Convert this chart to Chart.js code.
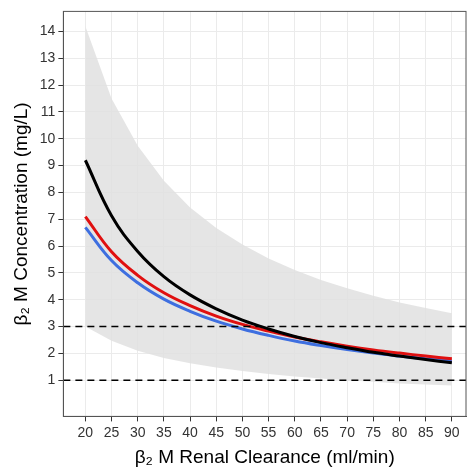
<!DOCTYPE html>
<html>
<head>
<meta charset="utf-8">
<script src="https://cdn.jsdelivr.net/npm/chart.js@4"></script>
<style>
  html, body { margin: 0; padding: 0; background: #fff; }
  #wrap { width: 474px; height: 475px; }
</style>
</head>
<body>
<div id="wrap"><canvas id="c"></canvas></div>
<script>
const clearance = [20, 25, 30, 35, 40, 45, 50, 55, 60, 65, 70, 75, 80, 85, 90];
const blackLine = [9.2, 7.13, 5.80, 4.86, 4.18, 3.66, 3.24, 2.91, 2.63, 2.40, 2.21, 2.04, 1.90, 1.77, 1.65];
const redLine   = [7.1, 5.79, 4.91, 4.26, 3.78, 3.39, 3.08, 2.83, 2.61, 2.43, 2.27, 2.13, 2.01, 1.90, 1.80];
const blueLine  = [6.7, 5.46, 4.63, 4.02, 3.57, 3.20, 2.91, 2.67, 2.46, 2.29, 2.14, 2.01, 1.90, 1.80, 1.72];
const bandUpper = [14.2, 11.5, 9.74, 8.44, 7.44, 6.67, 6.06, 5.54, 5.11, 4.74, 4.43, 4.15, 3.90, 3.69, 3.5];
const bandLower = [3.0, 2.47, 2.10, 1.83, 1.63, 1.47, 1.34, 1.23, 1.14, 1.06, 1.00, 0.94, 0.88, 0.84, 0.80];
const refLines = [1, 3];
const xTicks = [20, 25, 30, 35, 40, 45, 50, 55, 60, 65, 70, 75, 80, 85, 90];
const yTicks = [1, 2, 3, 4, 5, 6, 7, 8, 9, 10, 11, 12, 13, 14];

const pts = arr => arr.map((v, i) => ({ x: clearance[i], y: v }));

// dashed reference lines + panel border
const refLinePlugin = {
  id: 'refLines',
  afterDatasetsDraw(chart) {
    const { ctx, chartArea, scales } = chart;
    ctx.save();
    ctx.strokeStyle = '#000';
    ctx.lineWidth = 1.6;
    ctx.setLineDash([7, 5]);
    refLines.forEach(v => {
      const y = scales.y.getPixelForValue(v);
      ctx.beginPath();
      ctx.moveTo(chartArea.left, y);
      ctx.lineTo(chartArea.right, y);
      ctx.stroke();
    });
    ctx.setLineDash([]);
    ctx.strokeStyle = '#555';
    ctx.lineWidth = 1;
    ctx.strokeRect(chartArea.left, chartArea.top, chartArea.right - chartArea.left, chartArea.bottom - chartArea.top);
    ctx.restore();
  }
};

new Chart(document.getElementById('c'), {
  type: 'line',
  data: {
    datasets: [
      { data: pts(bandLower), borderWidth: 0, pointRadius: 0, fill: false, order: 10 },
      { data: pts(bandUpper), borderWidth: 0, pointRadius: 0, fill: '-1', backgroundColor: 'rgba(225,225,225,0.85)', order: 9 },
      { data: pts(blueLine), borderColor: '#3e6fe0', borderWidth: 3, pointRadius: 0, tension: 0.4, order: 3 },
      { data: pts(redLine), borderColor: '#e01010', borderWidth: 3, pointRadius: 0, tension: 0.4, order: 2 },
      { data: pts(blackLine), borderColor: '#000', borderWidth: 3, pointRadius: 0, tension: 0.4, order: 1 }
    ]
  },
  options: {
    responsive: true,
    maintainAspectRatio: false,
    animation: false,
    layout: { padding: { top: 5, right: 8, left: 6, bottom: 2 } },
    plugins: { legend: { display: false }, tooltip: { enabled: false } },
    scales: {
      x: {
        type: 'linear', min: 15.8, max: 92.7,
        afterBuildTicks: s => { s.ticks = xTicks.map(v => ({ value: v })); },
        grid: { color: '#ebebeb', tickColor: '#333', tickLength: 5 },
        border: { color: '#555' },
        ticks: { color: '#333', font: { family: 'Liberation Sans', size: 14 }, maxRotation: 0, autoSkip: false },
        title: { display: true, text: 'β₂ M Renal Clearance (ml/min)', color: '#000', font: { family: 'Liberation Sans', size: 19 }, padding: { top: 2 } }
      },
      y: {
        min: -0.35, max: 14.75,
        afterBuildTicks: s => { s.ticks = yTicks.map(v => ({ value: v })); },
        grid: { color: '#ebebeb', tickColor: '#333', tickLength: 5 },
        border: { color: '#555' },
        ticks: { color: '#333', font: { family: 'Liberation Sans', size: 14 }, autoSkip: false },
        title: { display: true, text: 'β₂ M Concentration (mg/L)', color: '#000', font: { family: 'Liberation Sans', size: 19 }, padding: { bottom: 4 } }
      }
    }
  },
  plugins: [refLinePlugin]
});
</script>
</body>
</html>
